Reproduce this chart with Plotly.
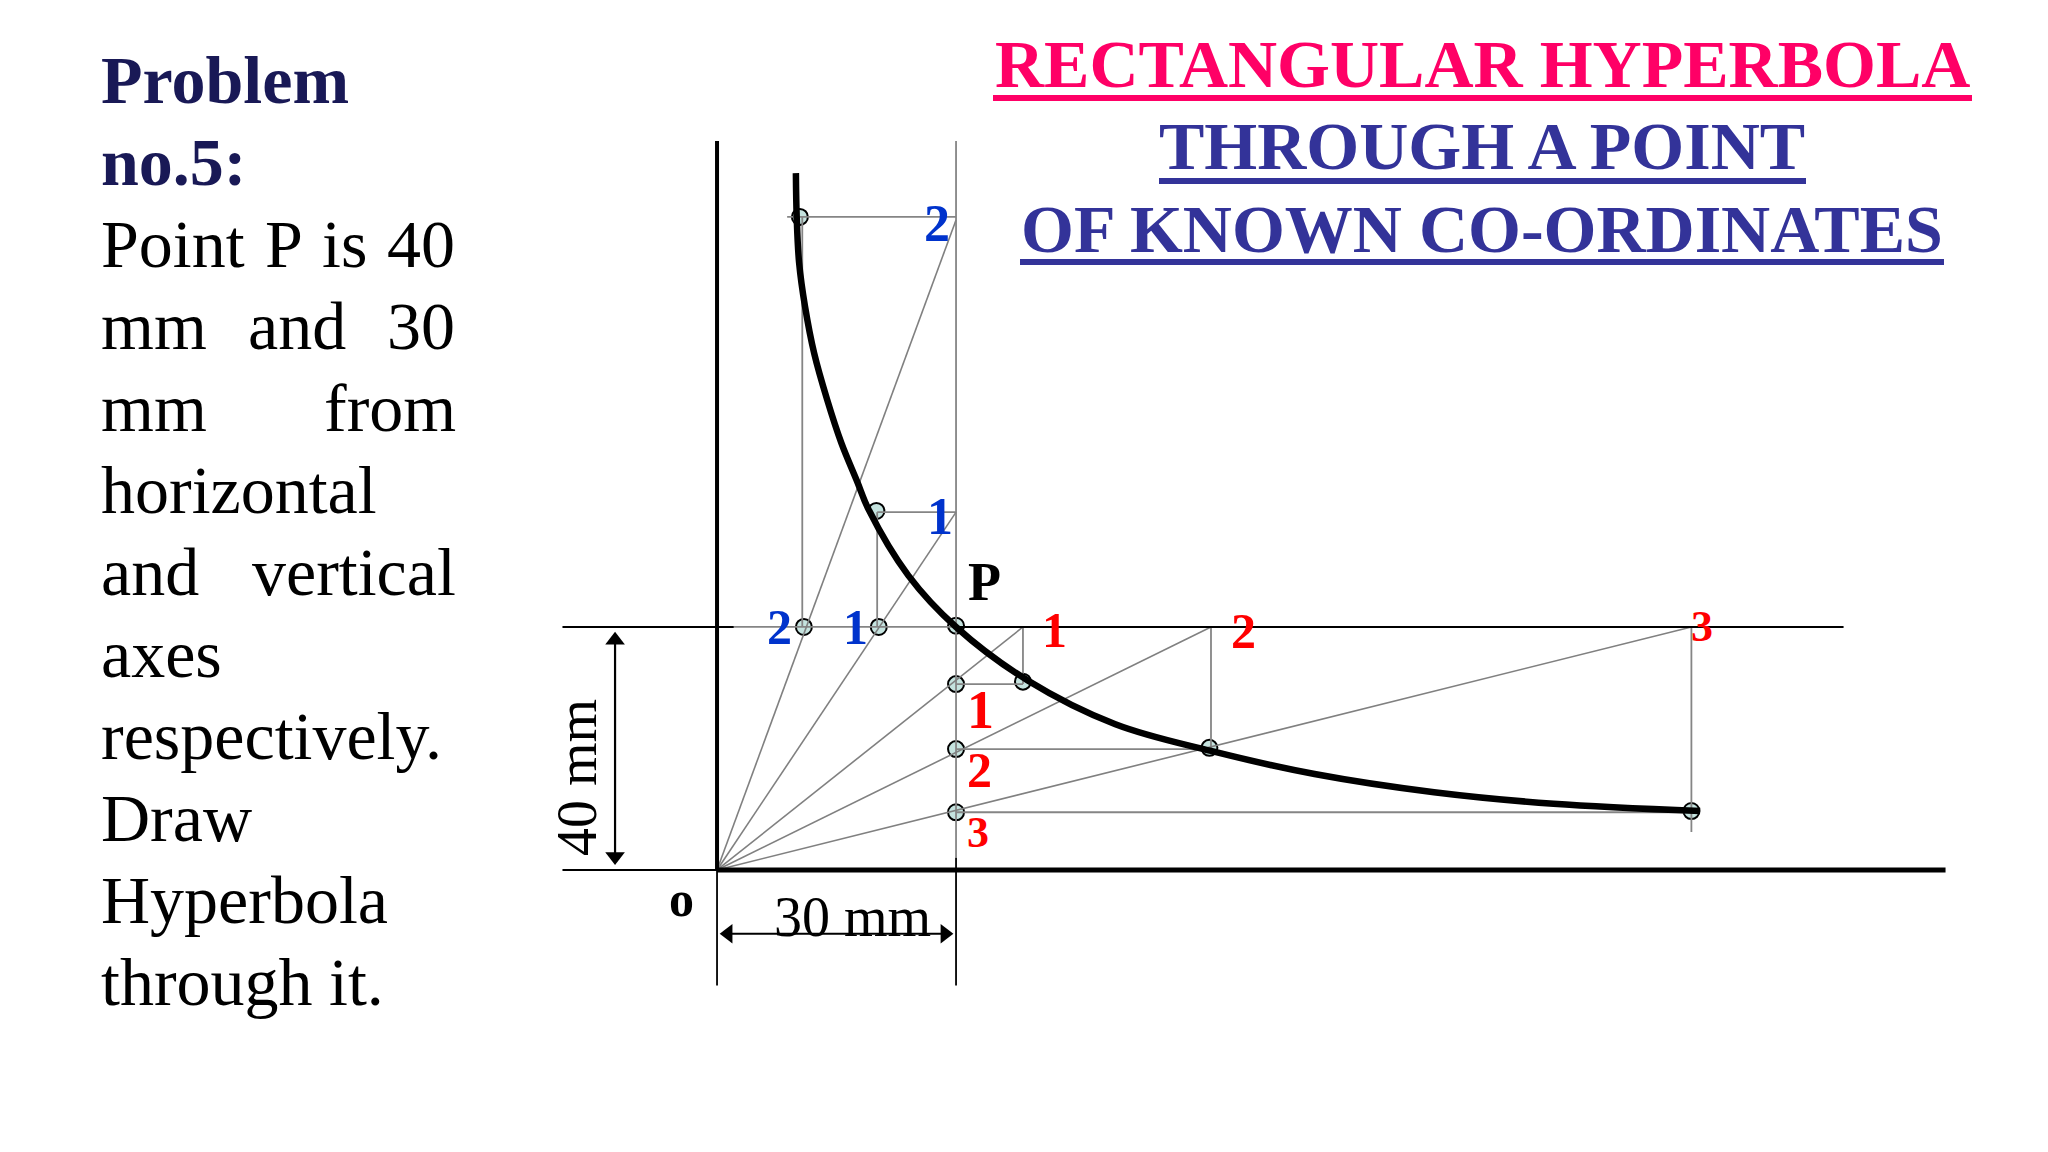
import plotly.graph_objects as go

W, H = 2048, 1152
SERIF = "Liberation Serif"

# Hyperbola (drawing units: 30 = OP horizontal, 40 = OP vertical)
curve_x = [9.9, 10.0, 10.3, 11.05, 12.2, 13.8, 15.6, 17.6, 19, 24, 30, 39, 50, 62, 75, 90, 105, 123.4]
curve_y = [114.7, 107.5, 100, 92.7, 85, 77.5, 70.3, 63.9, 59.4, 48.5, 40, 31.2, 24, 19.6, 15.8, 12.8, 10.9, 9.7]

# Construction points
point_x = [10.4, 20.0, 10.9, 20.3, 30, 30, 30, 30, 38.4, 61.8, 122.3]
point_y = [107.5, 59.1, 40, 40, 40.2, 30.6, 19.9, 9.5, 31.0, 20.1, 9.7]

# Rays from the origin: end points
ray_x = [30, 30, 38.4, 62, 122.3]
ray_y = [107, 58.9, 40, 40, 40]

# Thin grey projectors
grey_h = [(107.5, 8.8, 30), (58.9, 20.1, 30), (40, 2.1, 30), (30.6, 30, 38.4), (19.9, 30, 62), (9.5, 30, 122.3)]
grey_v = [(10.7, 40, 107.5), (20.1, 40, 58.9), (30, 2, 120), (38.4, 30.6, 40), (62, 19.9, 40), (122.3, 6.25, 40)]

# Black lines: (x list, y list, width)
black_lines = [
    ([0, 0], [0, 120], 4),
    ([0, 154.2], [0, 0], 5),
    ([-19.4, 0], [0, 0], 2),
    ([-19.4, 2.1], [40, 40], 2),
    ([30, 141.4], [40, 40], 2),
    ([0, 0], [0, -19], 1.8),
    ([30, 30], [2, -19], 1.8),
    ([-12.8, -12.8], [1.5, 38.5], 2.2),
    ([1.5, 28.5], [-10.5, -10.5], 2.2),
]
arrow_x = [-12.8, -12.8, 1.4, 28.6]
arrow_y = [37.8, 2.2, -10.5, -10.5]
arrow_symbol = ["triangle-up", "triangle-down", "triangle-left", "triangle-right"]

# Left hand text: (word, left edge, line number)
body_words = [
    ("Point", 99, 2), ("P", 263, 2), ("is", 320, 2), ("40", 385, 2),
    ("mm", 99, 3), ("and", 246, 3), ("30", 385, 3),
    ("mm", 99, 4), ("from", 322, 4),
    ("horizontal", 99, 5),
    ("and", 99, 6), ("vertical", 250, 6),
    ("axes", 99, 7),
    ("respectively.", 99, 8),
    ("Draw", 99, 9),
    ("Hyperbola", 99, 10),
    ("through", 99, 11), ("it.", 327, 11),
]
head_words = [("Problem", 99, 0), ("no.5:", 99, 1)]

# Title lines: (text, centre x, centre y, colour, underline left, underline right, underline y)
titles = [
    ("RECTANGULAR HYPERBOLA", 1482, 64, "#ff0066", 993, 1972, 98),
    ("THROUGH A POINT", 1482, 146, "#333399", 1159, 1806, 181),
    ("OF KNOWN CO-ORDINATES", 1482, 229, "#333399", 1020, 1944, 262),
]

# Division labels: (text, x, y, colour, size)
labels = [
    ("2", 937, 224, "#0033cc", 52), ("1", 940, 516, "#0033cc", 52),
    ("2", 779, 627, "#0033cc", 50), ("1", 855, 627, "#0033cc", 50),
    ("1", 1054, 630, "#ff0000", 50), ("2", 1243, 631, "#ff0000", 50), ("3", 1702, 626, "#ff0000", 44),
    ("1", 980, 710, "#ff0000", 54), ("2", 979, 770, "#ff0000", 50), ("3", 978, 832, "#ff0000", 44),
    ("P", 984, 582, "black", 54), ("o", 681, 899, "black", 50),
]

fig = go.Figure()

fig.add_trace(go.Scatter(x=point_x, y=point_y, mode="markers",
                         marker=dict(size=16, color="#c5e3df", line=dict(color="black", width=2))))

for y, x0, x1 in grey_h:
    fig.add_trace(go.Scatter(x=[x0, x1], y=[y, y], mode="lines", line=dict(color="#858585", width=1.8)))
for x, y0, y1 in grey_v:
    fig.add_trace(go.Scatter(x=[x, x], y=[y0, y1], mode="lines", line=dict(color="#858585", width=1.8)))
for x, y in zip(ray_x, ray_y):
    fig.add_trace(go.Scatter(x=[0, x], y=[0, y], mode="lines", line=dict(color="#808080", width=1.6)))

for xs, ys, w in black_lines:
    fig.add_trace(go.Scatter(x=xs, y=ys, mode="lines", line=dict(color="black", width=w)))
fig.add_trace(go.Scatter(x=arrow_x, y=arrow_y, mode="markers",
                         marker=dict(symbol=arrow_symbol, size=17, color="black")))

fig.add_trace(go.Scatter(x=curve_x, y=curve_y, mode="lines",
                         line=dict(color="black", width=6.5, shape="spline", smoothing=1)))


def add_text(text, x, y, size, color, bold=False, xanchor="center", angle=0):
    if bold:
        text = "<b>" + text + "</b>"
    fig.add_annotation(text=text, x=x / W, y=1 - y / H, xref="paper", yref="paper",
                       xanchor=xanchor, yanchor="middle", showarrow=False, textangle=angle,
                       font=dict(family=SERIF, size=size, color=color))


for word, x, line in head_words:
    add_text(word, x, 80 + 82 * line, 68, "#191956", bold=True, xanchor="left")
for word, x, line in body_words:
    add_text(word, x, 80 + 82 * line, 68, "black", xanchor="left")

for text, x, y, color, u0, u1, uy in titles:
    add_text(text, x, y, 68, color, bold=True)
    fig.add_shape(type="line", xref="paper", yref="paper", x0=u0 / W, x1=u1 / W,
                  y0=1 - uy / H, y1=1 - uy / H, line=dict(color=color, width=6))

for text, x, y, color, size in labels:
    add_text(text, x, y, size, color, bold=True)

add_text("30 mm", 852, 917, 56, "black")
add_text("40 mm", 577, 778, 56, "black", angle=-90)

fig.update_xaxes(visible=False, range=[-90, 167.06])
fig.update_yaxes(visible=False, range=[-46.42, 143.2])
fig.update_layout(width=W, height=H, margin=dict(l=0, r=0, t=0, b=0), showlegend=False,
                  plot_bgcolor="white", paper_bgcolor="white")

fig.write_html("out.html", config={"displayModeBar": False},
               post_script="document.body.style.margin = 0;")
